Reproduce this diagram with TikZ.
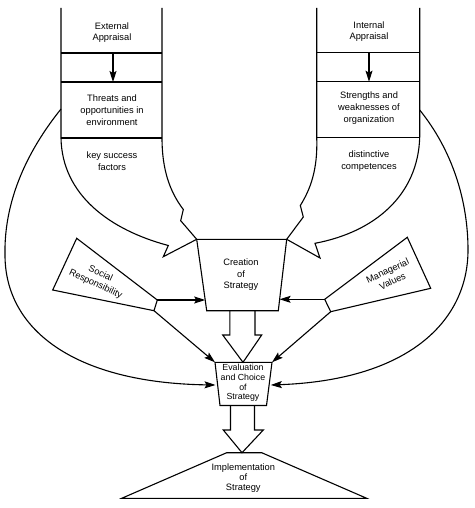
\documentclass[tikz,border=0pt]{standalone}
\usepackage{fontspec}
\setmainfont{Liberation Sans}
\usetikzlibrary{arrows.meta}
\begin{document}
\begin{tikzpicture}[x=1pt,y=-1pt,line width=1.1pt,line join=miter,
  lbl/.style={font=\fontsize{9.3}{11.7}\selectfont,align=center,inner sep=0pt},
  lblsm/.style={font=\fontsize{8.8}{9.8}\selectfont,align=center,inner sep=0pt},
  arr/.style={-{Stealth[length=11pt,width=7pt,inset=2pt]}},
  outl/.style={draw,line width=1.1pt}]
\useasboundingbox (0,0) rectangle (474,508);

% ---------- coordinates ----------
% left column
\coordinate (L0) at (61,8);   \coordinate (R0) at (162,8);
\coordinate (L1) at (61,53);  \coordinate (R1) at (162,53);
\coordinate (L2) at (61,82);  \coordinate (R2) at (162,82);
\coordinate (L3) at (61,138); \coordinate (R3) at (162,138);
\coordinate (Lstart) at (61,109);
% right column
\coordinate (M0) at (316.7,8);   \coordinate (N0) at (419.7,8);
\coordinate (M1) at (316.7,52.5);  \coordinate (N1) at (419.7,52.5);
\coordinate (M2) at (316.7,81.7);  \coordinate (N2) at (419.7,81.7);
\coordinate (M3) at (316.7,137.3); \coordinate (N3) at (419.7,137.3);
\coordinate (Rstart) at (419.7,110);
% creation box
\coordinate (C1) at (196.7,239.3); \coordinate (C2) at (286.7,239.3);
\coordinate (C3) at (278.3,310.7); \coordinate (C4) at (206.7,310.7);
% evaluation box
\coordinate (E1) at (215,362.3); \coordinate (E2) at (272,362.3);
\coordinate (E3) at (266.5,405.5); \coordinate (E4) at (220,405.5);
% implementation
\coordinate (I1) at (226.7,452.7); \coordinate (I2) at (261.7,452.7);
\coordinate (I3) at (366.7,498.3); \coordinate (I4) at (121.7,498.3);
% social responsibility wedge
\coordinate (S1) at (76.7,238.3); \coordinate (S2) at (52.7,290);
\coordinate (S3) at (154,310.7);  \coordinate (S4) at (157.3,300);
% managerial values wedge
\coordinate (V1) at (407.3,237.3); \coordinate (V2) at (430.7,288.3);
\coordinate (V3) at (330.7,311.7); \coordinate (V4) at (324.7,299.3);
% arrow targets
\coordinate (CLs) at (205.2,300);
\coordinate (CRs) at (279.6,299.3);
\coordinate (ELc) at (215.5,385);
\coordinate (ERc) at (270.8,385);

% ---------- left funnel ----------
\draw[outl] (L0) -- (L3)
  .. controls (62,195) and (110,230) .. (168.3,245.5)
  -- (163.3,256.7) -- (C1) -- (180.7,220.7) -- (183.3,209.5)
  .. controls (170,192) and (162,170) .. (R3) -- (R0);
\draw[outl] (L1) -- (R1);
\draw[outl] (L2) -- (R2);
\draw[outl] (L3) -- (R3);
\draw[arr] (113,53) -- (113,82);

% ---------- right funnel ----------
\draw[outl] (N0) -- (N3)
  .. controls (418,195) and (375,232) .. (315,243.3)
  -- (320,258) -- (C2) -- (303.3,217) -- (300.3,205.5)
  .. controls (310,190) and (318,170) .. (M3) -- (M0);
\draw[outl] (M1) -- (N1);
\draw[outl] (M2) -- (N2);
\draw[outl] (M3) -- (N3);
\draw[arr] (369,52.5) -- (369,81.7);

% ---------- boxes ----------
\draw[outl] (C1) -- (C2) -- (C3) -- (C4) -- cycle;
\draw[outl] (E1) -- (E2) -- (E3) -- (E4) -- cycle;
\draw[outl] (I1) -- (I2) -- (I3) -- (I4) -- cycle;
\draw[outl] (S1) -- (S2) -- (S3) -- (S4) -- cycle;
\draw[outl] (V1) -- (V2) -- (V3) -- (V4) -- cycle;

% ---------- block arrows ----------
\draw[outl] (229.8,310.7) -- (229.8,335) -- (222.7,335) -- (243,362.3)
  -- (261.7,335) -- (255,335) -- (255,310.7);
\draw[outl] (230.5,405.5) -- (230.5,430) -- (223.3,430) -- (242,452.7)
  -- (263.3,430) -- (254.5,430) -- (254.5,405.5);

% ---------- connectors ----------
\draw[arr] (S4) -- (CLs);
\draw[arr] (S3) -- (E1);
\draw[arr] (V4) -- (CRs);
\draw[arr] (V3) -- (E2);
\draw[arr] (Lstart) .. controls (20,160) and (4,210) .. (5,255)
  .. controls (5,330) and (75,383) .. (ELc);
\draw[arr] (Rstart) .. controls (452,150) and (468,200) .. (468,250)
  .. controls (468,320) and (410,380) .. (ERc);

% ---------- texts ----------
\node[lbl] (extapp) at (112,32.5) {External\\Appraisal};
\node[lbl] (threats) at (112,110) {Threats and\\opportunities in\\environment};
\node[lbl] (ksf) at (112,161.5) {key success\\factors};
\node[lbl] (intapp) at (369,31.7) {Internal\\Appraisal};
\node[lbl] (strengths) at (369,108) {Strengths and\\weaknesses of\\organization};
\node[lbl] (distinct) at (369,161) {distinctive\\competences};
\node[lbl] (creation) at (241,274.7) {Creation\\of\\Strategy};
\node[lblsm] (evaluation) at (243,383) {Evaluation\\and Choice\\of\\Strategy};
\node[lbl,font=\fontsize{9.3}{10}\selectfont] (impl) at (243.3,478.3) {Implementation\\of\\Strategy};
\node[lbl,rotate=-25] (social) at (98,279) {Social\\Responsibility};
\node[lbl,rotate=25] (manag) at (390,276) {Managerial\\Values};
\end{tikzpicture}
\end{document}
